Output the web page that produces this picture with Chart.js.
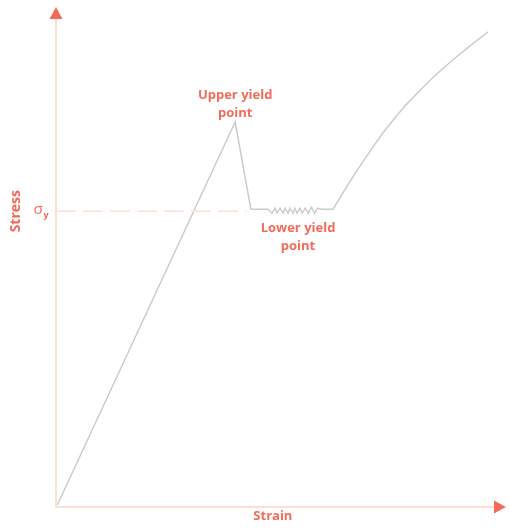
<!DOCTYPE html>
<html>
<head>
<meta charset="utf-8">
<script src="https://cdn.jsdelivr.net/npm/chart.js@4/dist/chart.umd.min.js"></script>
<style>
html,body{margin:0;padding:0;background:#fff;}
#wrap{width:510px;height:532px;}
</style>
</head>
<body>
<div id="wrap"><canvas id="c" width="510" height="532"></canvas></div>
<script>
// Stress-strain curve (arbitrary units, 0-100)
const strainX = [0.3, 39.9, 43.4, 47.2, 48.1, 48.8, 49.2, 49.9, 50.6, 51.0, 51.7, 52.1, 52.8, 53.2, 53.7, 54.3, 54.8, 55.5, 56.2, 56.9, 57.6, 58.3, 59.2, 61.7, 64.0, 66.1, 68.4, 70.6, 72.8, 75.1, 78.0, 81.1, 84.6, 88.4, 92.2, 96.2];
const stressY = [0.2, 77.1, 59.6, 59.6, 58.8, 59.8, 58.8, 59.8, 58.8, 59.8, 58.8, 59.8, 58.8, 59.8, 58.8, 59.8, 58.8, 59.8, 58.8, 60.0, 58.8, 59.8, 59.6, 59.6, 63.0, 66.1, 69.2, 72.1, 74.9, 77.5, 80.6, 83.5, 86.6, 89.6, 92.4, 95.2];
const yieldStress = 59.2;
const yieldLineX = [0, 42.5];
const upperYield = {x: 39.9, y: 77.1, text: ["Upper yield", "point"]};
const lowerYield = {x: 53.9, y: 59.6, text: ["Lower yield", "point"]};
const xTitle = "Strain";
const yTitle = "Stress";
const sigmaLabel = "σ";
const sigmaSub = "y";

const TEXT = '#f26b5b';
const AXIS = '#fde0d5';
const FONT = '"Open Sans", "Noto Sans", sans-serif';

const decor = {
  id: 'decor',
  beforeDatasetsDraw(chart) {
    const {ctx, chartArea: a} = chart;
    ctx.save();
    ctx.strokeStyle = AXIS;
    ctx.lineWidth = 2;
    ctx.beginPath();
    ctx.moveTo(a.left, a.bottom + 1);
    ctx.lineTo(a.left, a.top + 11);
    ctx.moveTo(a.left - 1, a.bottom + 1);
    ctx.lineTo(a.right - 11, a.bottom + 1);
    ctx.stroke();
    ctx.fillStyle = TEXT;
    ctx.beginPath();
    ctx.moveTo(a.left, a.top - 1);
    ctx.lineTo(a.left - 6.5, a.top + 11);
    ctx.lineTo(a.left + 6.5, a.top + 11);
    ctx.closePath();
    ctx.fill();
    ctx.beginPath();
    ctx.moveTo(a.right + 1, a.bottom + 1);
    ctx.lineTo(a.right - 11, a.bottom - 5.5);
    ctx.lineTo(a.right - 11, a.bottom + 7.5);
    ctx.closePath();
    ctx.fill();
    ctx.restore();
  },
  afterDatasetsDraw(chart) {
    const {ctx, chartArea: a, scales: {x, y}} = chart;
    ctx.save();
    ctx.fillStyle = TEXT;
    ctx.textAlign = 'center';
    ctx.textBaseline = 'middle';
    ctx.font = 'bold 13px ' + FONT;
    const ux = x.getPixelForValue(upperYield.x), uy = y.getPixelForValue(upperYield.y);
    ctx.fillText(upperYield.text[0], ux, uy - 27);
    ctx.fillText(upperYield.text[1], ux, uy - 9);
    const lx = x.getPixelForValue(lowerYield.x), ly = y.getPixelForValue(lowerYield.y);
    ctx.fillText(lowerYield.text[0], lx, ly + 19);
    ctx.fillText(lowerYield.text[1], lx, ly + 37);
    ctx.fillText(xTitle, a.left + 0.483 * (a.right - a.left), a.bottom + 10);
    ctx.save();
    ctx.translate(16, y.getPixelForValue(yieldStress));
    ctx.rotate(-Math.PI / 2);
    ctx.font = 'bold 14px ' + FONT;
    ctx.fillText(yTitle, 0, 0);
    ctx.restore();
    const sy = y.getPixelForValue(yieldStress);
    ctx.font = '15px ' + FONT;
    ctx.fillText(sigmaLabel, 38, sy - 1);
    ctx.font = 'bold 9px ' + FONT;
    ctx.fillText(sigmaSub, 46, sy + 4);
    ctx.restore();
  }
};

new Chart(document.getElementById('c'), {
  type: 'scatter',
  data: {
    datasets: [
      {
        data: yieldLineX.map(v => ({x: v, y: yieldStress})),
        showLine: true,
        borderColor: AXIS,
        borderWidth: 1.5,
        borderDash: [20, 7],
        pointRadius: 0,
        tension: 0
      },
      {
        data: strainX.map((v, i) => ({x: v, y: stressY[i]})),
        showLine: true,
        borderColor: '#cccccc',
        borderWidth: 1.5,
        pointRadius: 0,
        tension: 0
      }
    ]
  },
  options: {
    responsive: false,
    animation: false,
    layout: {padding: {left: 56, right: 5, top: 8, bottom: 26}},
    plugins: {legend: {display: false}, tooltip: {enabled: false}},
    scales: {
      x: {type: 'linear', min: 0, max: 100, display: false},
      y: {type: 'linear', min: 0, max: 100, display: false}
    }
  },
  plugins: [decor]
});
</script>
</body>
</html>
